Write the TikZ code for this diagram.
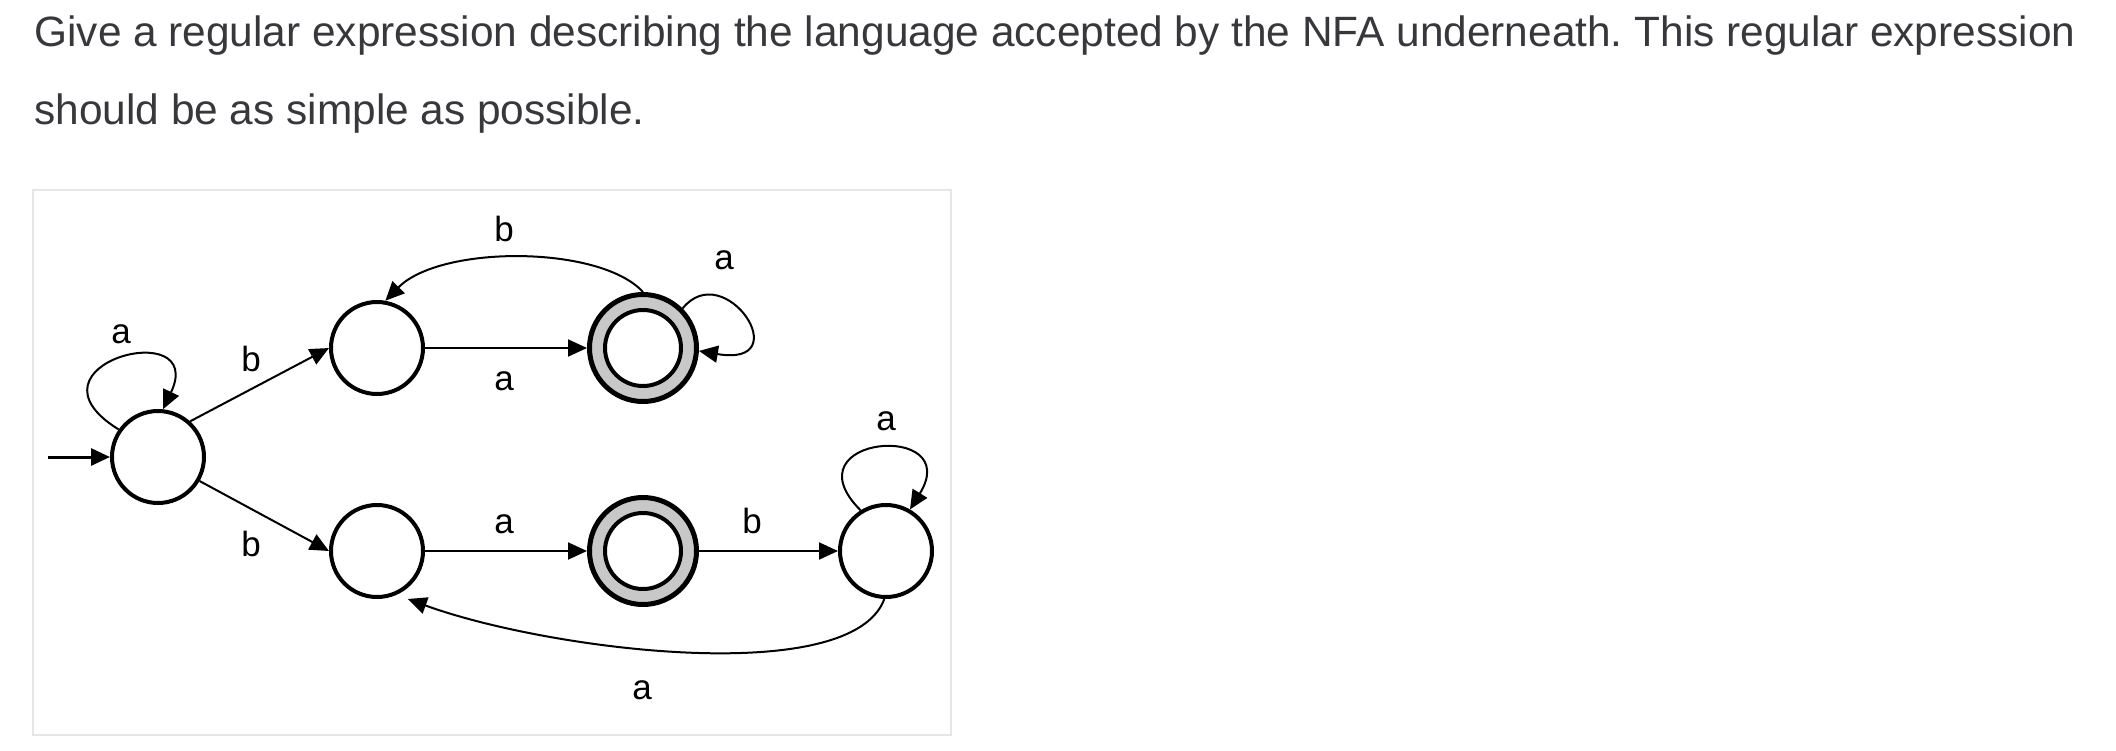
\documentclass[tikz,border=0pt]{standalone}
\usepackage{fontspec}
\setmainfont{Liberation Sans}
\usetikzlibrary{arrows.meta}
\definecolor{txtgray}{RGB}{55,55,60}
\definecolor{framegray}{RGB}{230,230,230}
\definecolor{ringgray}{RGB}{200,200,200}
\frenchspacing
\begin{document}
\begin{tikzpicture}[x=0.5pt,y=-0.5pt,
  state/.style={circle, draw, line width=2pt, minimum size=46pt, inner sep=0pt, fill=white},
  accout/.style={circle, draw, line width=2.5pt, minimum size=53.5pt, inner sep=0pt, fill=ringgray},
  accin/.style={circle, draw, line width=2pt, minimum size=38pt, inner sep=0pt, fill=white},
  trans/.style={line width=1pt, -{Triangle[length=9.5pt,width=8.5pt]}},
  lbl/.style={font=\fontsize{17.5}{17.5}\selectfont, inner sep=0pt},
  para/.style={font=\fontsize{21.2}{21.2}\selectfont, text=txtgray, inner sep=0pt, anchor=base west}]
\useasboundingbox (0,0) rectangle (2116,750);
% question text
\node[para] (t1) at (34,46) {Give a regular expression describing the language accepted by the NFA underneath. This regular expression};
\node[para] (t2) at (34,124) {should be as simple as possible.};
% frame
\draw[framegray, line width=1pt] (33,190) rectangle (951,735);
% states
\node[state] (q0) at (158,457) {};
\node[state] (q1) at (377,348) {};
\node[accout] (q2) at (643,348) {};
\node[accin] (q2i) at (643,348) {};
\node[state] (q3) at (377,551) {};
\node[accout] (q4) at (643,551) {};
\node[accin] (q4i) at (643,551) {};
\node[state] (q5) at (886,551) {};
\coordinate (init) at (48,457);
% transitions
\draw[trans, line width=1.5pt] (init) -- (q0.west);
\draw[trans] (q0.145) .. controls +(-105,-65) and +(45,-95) .. (q0.84);
\draw[trans] (q0.48) -- (q1.west);
\draw[trans] (q1.east) -- (q2.west);
\draw[trans] (q2.90) .. controls +(-43,-47) and +(55,-56) .. (q1.80);
\draw[trans] (q2.45) .. controls +(42,-52) and +(100,17) .. (q2.-3);
\draw[trans] (q0.-30) -- (q3.west);
\draw[trans] (q3.east) -- (q4.west);
\draw[trans] (q4.east) -- (q5.west);
\draw[trans] (q5.122) .. controls +(-75,-75) and +(55,-89) .. (q5.60);
\draw[trans, shorten >=6pt] (q5.-92) .. controls +(-33,90) and +(150,55) .. (q3.-66);
% labels
\node[lbl] (la0) at (121,334) {a};
\node[lbl] (lb01) at (251,359) {b};
\node[lbl] (la12) at (504,381) {a};
\node[lbl] (lb21) at (504,229) {b};
\node[lbl] (la2) at (724,260) {a};
\node[lbl] (lb03) at (251,544) {b};
\node[lbl] (la34) at (504,524) {a};
\node[lbl] (lb45) at (752,521) {b};
\node[lbl] (la5) at (886,421) {a};
\node[lbl] (la53) at (642,690) {a};
\end{tikzpicture}
\end{document}
